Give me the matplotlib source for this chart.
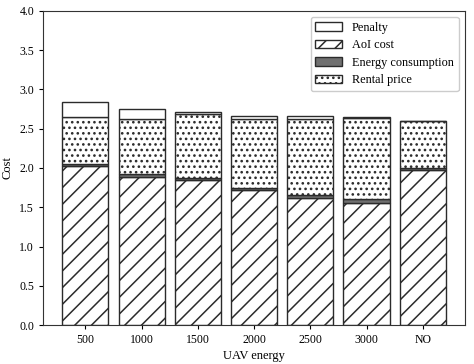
import numpy as np
import matplotlib.pyplot as plt

plt.rcParams['font.family'] = ['Liberation Serif', 'DejaVu Serif']
plt.rcParams['hatch.linewidth'] = 1.1

labels = ['500', '1000', '1500', '2000', '2500', '3000', 'NO']
aoi_cost = [2.02, 1.88, 1.85, 1.72, 1.62, 1.56, 1.97]
energy = [0.03, 0.04, 0.02, 0.02, 0.04, 0.04, 0.03]
rental = [0.60, 0.71, 0.82, 0.89, 0.97, 1.04, 0.60]
penalty = [0.19, 0.12, 0.02, 0.03, 0.03, 0.01, 0.00]

x = np.arange(len(labels))
aoi_cost = np.array(aoi_cost)
energy = np.array(energy)
rental = np.array(rental)
penalty = np.array(penalty)

fig = plt.figure(figsize=(4.74, 3.64), dpi=100)
ax = fig.add_axes([0.091, 0.107, 0.890, 0.863])

ec = '#2b2b2b'
w = 0.82
b_aoi = ax.bar(x, aoi_cost, w, color='white', edgecolor=ec, hatch='//', lw=1.0)
b_en = ax.bar(x, energy, w, bottom=aoi_cost, color='#707070', edgecolor=ec, lw=1.0)
b_ren = ax.bar(x, rental, w, bottom=aoi_cost + energy, color='white', edgecolor=ec,
               hatch='...', lw=1.0)
b_pen = ax.bar(x, penalty, w, bottom=aoi_cost + energy + rental, color='white',
               edgecolor=ec, lw=1.0)

ax.set_xlim(-0.75, 6.75)
ax.set_ylim(0, 4.0)
ax.set_yticks(np.arange(0, 4.01, 0.5))
ax.set_xticks(x)
ax.set_xticklabels(labels)
ax.tick_params(labelsize=8.5, length=3)
ax.set_xlabel('UAV energy', fontsize=9, labelpad=3)
ax.set_ylabel('Cost', fontsize=9)
for s in ax.spines.values():
    s.set_color('#333333')

ax.legend([b_pen, b_aoi, b_en, b_ren],
          ['Penalty', 'AoI cost', 'Energy consumption', 'Rental price'],
          loc='upper right', fontsize=8.8, framealpha=1, edgecolor='#cccccc',
          borderaxespad=0.5, handlelength=2.2, labelspacing=0.45)

fig.savefig('out.png', dpi=100)
